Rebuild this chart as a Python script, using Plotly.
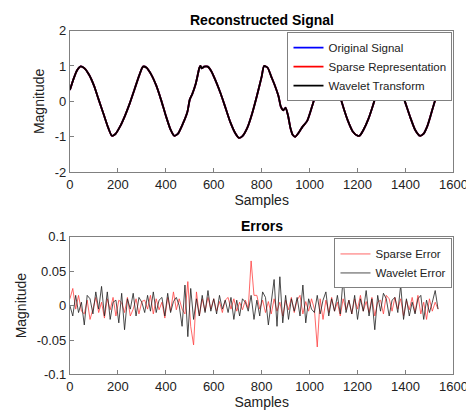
import plotly.graph_objects as go

# Reconstructed signal, read at key samples
sig_x = [0, 16, 30, 45, 60, 80, 100, 120, 140, 160, 175, 190, 210, 230, 250, 270, 290, 305, 320, 340, 360, 380, 400, 420, 435, 450, 470, 490, 500, 510, 525, 535, 540, 545, 550, 560, 575, 590, 610, 630, 650, 670, 690, 705, 720, 740, 760, 780, 800, 810, 825, 840, 855, 870, 880, 890, 900, 910, 920, 930, 940, 955, 970, 990, 1010, 1030, 1050, 1065, 1080, 1100, 1120, 1140, 1160, 1180, 1200, 1210, 1225, 1245, 1265, 1285, 1305, 1320, 1340, 1360, 1380, 1400, 1420, 1440, 1460, 1475, 1490, 1505, 1520, 1535]
sig_y = [0.32, 0.65, 0.88, 0.99, 0.94, 0.75, 0.45, 0.05, -0.35, -0.75, -0.97, -0.92, -0.7, -0.4, -0.05, 0.35, 0.75, 0.98, 0.95, 0.75, 0.45, 0.05, -0.4, -0.8, -0.97, -0.92, -0.65, -0.3, 0.05, 0.2, 0.5, 0.8, 0.95, 1.0, 0.93, 0.98, 0.98, 0.85, 0.55, 0.2, -0.2, -0.6, -0.9, -1.03, -0.98, -0.75, -0.35, 0.15, 0.7, 1.0, 0.95, 0.7, 0.45, 0.15, -0.15, -0.25, -0.18, -0.4, -0.75, -0.95, -1.0, -0.88, -0.72, -0.55, -0.15, 0.3, 0.75, 0.98, 0.98, 0.7, 0.3, -0.15, -0.55, -0.85, -0.97, -0.96, -0.8, -0.5, -0.1, 0.35, 0.75, 0.98, 0.93, 0.7, 0.35, -0.05, -0.45, -0.8, -0.97, -0.92, -0.72, -0.4, -0.05, 0.28]

err_x = list(range(0, 1537, 12))
sparse_err = [10, 25, -5, 15, -8, -12, 8, -20, -5, 12, -10, 5, -18, 10, -6, 12, -15, 8, 4, -10, 12, -15, -5, 10, -12, 6, 8, -5, 15, -12, 10, -6, 5, -18, 12, -8, 20, -6, 10, -5, -12, 35, -30, -57, 20, -15, 10, -8, 12, -5, 10, -8, 6, -10, 8, 12, -5, 10, -8, 5, -6, 8, -4, 65, 15, 15, -5, 8, -10, 6, -12, 10, -8, 5, -15, 8, -6, 12, -10, 8, 15, -12, 6, -8, 10, -5, -60, 10, -20, 8, -10, 12, -8, 5, -15, 10, -6, 8, -12, 10, -5, 15, -8, 6, -10, 12, -15, 5, 8, -12, 15, 10, -8, 12, -5, 10, -15, 8, -6, 12, -10, 15, -12, 5, -20, 10, -8, 5, -5]
wavelet_err = [0, -15, 15, -10, 5, -28, 15, 10, -12, 20, -5, 28, -15, 20, -20, 5, 8, -25, 18, -35, 10, -5, 18, -15, 12, 5, -10, 15, -8, 20, -10, 8, 12, -15, 18, -10, 6, 12, 0, -30, 30, -45, 25, -20, 10, -15, 15, -10, 22, -8, 10, -12, 15, -5, 8, -10, 12, -20, 8, -15, 10, 5, -8, 15, -20, 8, -15, 20, 12, -28, 5, 38, -30, 42, -25, 15, -20, 10, -8, 12, -15, 30, -25, 10, -5, -10, 15, -12, 8, 20, -15, 10, -8, 15, -12, 40, -10, 8, -12, 15, -20, 10, -8, 22, -15, 10, -35, 15, -8, 18, 10, -15, 8, 12, -10, 30, -20, 10, -15, 5, -12, 10, 15, -20, 8, -10, 5, 22, -5]
sparse_err = [v / 1000 for v in sparse_err]
wavelet_err = [v / 1000 for v in wavelet_err]

err_ticks = [-0.1, -0.05, 0, 0.05, 0.1]
err_labels = ["-0.1", "-0.05", "0", "0.05", "0.1"]
sig_ticks = [-2, -1, 0, 1, 2]
sig_labels = ["-2", "-1", "0", "1", "2"]

fig = go.Figure()
for name, col in [("Original Signal", "#0000ff"), ("Sparse Representation", "#ff0000"), ("Wavelet Transform", "#000000")]:
    fig.add_trace(go.Scatter(x=sig_x, y=sig_y, mode="lines", name=name, line=dict(color=col, width=1.8, shape="spline", smoothing=0.6),
                             xaxis="x", yaxis="y", legend="legend"))
fig.add_trace(go.Scatter(x=err_x, y=sparse_err, mode="lines", name="Sparse Error", line=dict(color="#ff4040", width=0.8),
                         xaxis="x2", yaxis="y2", legend="legend2"))
fig.add_trace(go.Scatter(x=err_x, y=wavelet_err, mode="lines", name="Wavelet Error", line=dict(color="#202020", width=0.8),
                         xaxis="x2", yaxis="y2", legend="legend2"))

ax = dict(showline=True, linecolor="#808080", mirror=True, ticks="inside", ticklen=4, tickcolor="#808080",
          showgrid=False, zeroline=False, tickfont=dict(size=13, color="#222"))
fig.update_layout(
    width=474, height=414, margin=dict(l=0, r=0, t=0, b=0),
    paper_bgcolor="white", plot_bgcolor="white",
    font=dict(family="Liberation Sans, Arial", color="#222"),
    xaxis=dict(ax, domain=[0.127, 0.968], range=[0, 1600], dtick=200, anchor="y",
               title=dict(text="Samples", font=dict(size=14), standoff=4)),
    yaxis=dict(ax, domain=[0.606, 0.961], range=[-2, 2], tickvals=sig_ticks, ticktext=sig_labels, anchor="x",
               title=dict(text="Magnitude", font=dict(size=14), standoff=6)),
    xaxis2=dict(ax, domain=[0.127, 0.968], range=[0, 1600], dtick=200, anchor="y2",
                title=dict(text="Samples", font=dict(size=14), standoff=4)),
    yaxis2=dict(ax, domain=[0.099, 0.444], range=[-0.1, 0.1], tickvals=err_ticks, ticktext=err_labels, anchor="x2",
                title=dict(text="Magnitude", font=dict(size=14), standoff=6)),
    legend=dict(x=0.966, y=0.957, xanchor="right", yanchor="top", bgcolor="white", bordercolor="#808080",
                borderwidth=1, font=dict(size=11.5), tracegroupgap=0, itemwidth=30),
    legend2=dict(x=0.966, y=0.44, xanchor="right", yanchor="top", bgcolor="white", bordercolor="#808080",
                 borderwidth=1, font=dict(size=11.5), itemwidth=30),
    annotations=[
        dict(text="<b>Reconstructed Signal</b>", x=0.5475, y=0.962, xref="paper", yref="paper", yanchor="bottom",
             showarrow=False, font=dict(size=14, color="#000")),
        dict(text="<b>Errors</b>", x=0.5475, y=0.446, xref="paper", yref="paper", yanchor="bottom",
             showarrow=False, font=dict(size=14, color="#000")),
    ],
)
fig.write_html("out.html")
